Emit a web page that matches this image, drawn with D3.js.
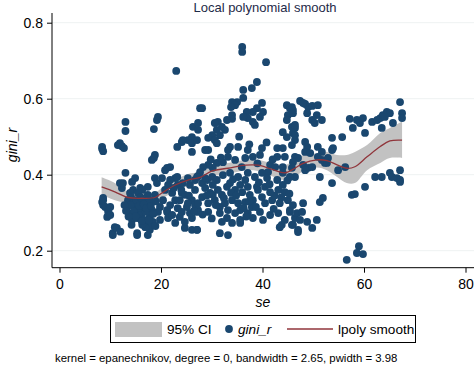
<!DOCTYPE html>
<html>
<head>
<meta charset="utf-8">
<script src="https://cdn.jsdelivr.net/npm/d3@7"></script>
<style>
  body { margin: 0; background: #fff; }
  text { font-family: "Liberation Sans", Arial, sans-serif; }
</style>
</head>
<body>
<div id="chart"></div>
<script>
// scatter: [se, gini_r]
var obs = [
  [8.4,0.468],[8.6,0.462],[8.4,0.473],[8.6,0.339],[8.4,0.328],[8.6,0.320],[9.0,0.315],[9.6,0.307],
  [9.4,0.289],[9.6,0.302],[10.0,0.294],[10.0,0.315],[8.6,0.333],[10.5,0.246],[10.9,0.262],[11.3,0.260],
  [10.5,0.241],[11.9,0.483],[11.5,0.478],[12.3,0.475],[12.7,0.470],[11.9,0.378],[12.3,0.365],[12.5,0.378],
  [13.0,0.405],[13.0,0.539],[13.0,0.515],[12.0,0.250],
  [13.3,0.315],[13.9,0.299],[14.3,0.281],[14.9,0.315],[15.9,0.325],[16.5,0.307],[17.4,0.320],[17.8,0.289],
  [17.2,0.273],[17.8,0.255],[17.4,0.241],[15.3,0.246],[15.3,0.241],[14.3,0.381],[14.9,0.391],[15.9,0.365],
  [17.4,0.368],[18.8,0.391],[14.5,0.360],[16.3,0.360],[15.5,0.352],[13.9,0.352],[13.5,0.333],[14.1,0.341],
  [14.5,0.325],[15.1,0.333],[15.5,0.307],[16.1,0.294],[16.9,0.333],[17.0,0.302],[16.7,0.281],[18.2,0.307],
  [17.8,0.333],[18.4,0.276],[17.8,0.262],[18.8,0.347],[16.9,0.262],[16.3,0.268],[17.4,0.347],[15.3,0.286],
  [18.8,0.452],[18.2,0.439],[18.6,0.444],[19.2,0.544],[19.4,0.552],[18.6,0.520],[19.2,0.378],[19.8,0.315],
  [19.8,0.281],[19.4,0.302],
  [14.0,0.320],[14.7,0.305],[15.7,0.318],[16.0,0.340],[16.6,0.322],[17.1,0.312],[18.0,0.318],[18.5,0.297],
  [15.0,0.290],[16.2,0.278],[17.6,0.280],[18.9,0.265],[14.2,0.268],[13.6,0.290],[19.0,0.330],[12.8,0.320],
  [13.1,0.305],
  [20.8,0.412],[21.8,0.420],[21.2,0.418],[22.8,0.391],[23.2,0.394],[21.2,0.302],[21.8,0.320],[21.4,0.286],
  [21.2,0.307],[22.8,0.273],[23.7,0.289],[24.7,0.260],[26.1,0.286],[26.1,0.255],[25.1,0.315],[24.7,0.276],
  [27.1,0.255],[22.8,0.333],[22.2,0.352],[24.1,0.352],[26.1,0.333],[26.7,0.360],[23.0,0.673],[27.7,0.575],
  [26.3,0.526],[26.1,0.499],[25.3,0.491],[24.1,0.486],[23.2,0.473],[24.3,0.491],[26.1,0.483],[26.1,0.460],
  [23.3,0.373],[24.3,0.378],[25.3,0.391],[25.7,0.373],[26.7,0.386],[27.3,0.397],[24.7,0.347],[23.7,0.333],
  [25.3,0.325],[26.7,0.320],[27.3,0.307],[23.3,0.312],[24.1,0.302],[22.2,0.294],[25.7,0.299],[20.4,0.333],
  [20.8,0.360],[21.4,0.373],[20.2,0.391],[21.8,0.386],
  [36.0,0.736],[36.0,0.723],[40.7,0.696],[38.9,0.644],[37.9,0.628],[36.2,0.623],[36.2,0.602],[35.0,0.591],
  [34.0,0.591],[34.6,0.583],[33.8,0.578],[28.1,0.575],[39.9,0.589],[40.1,0.565],[38.9,0.575],[38.1,0.565],
  [36.9,0.565],[37.1,0.549],[36.2,0.552],[38.1,0.539],[38.5,0.531],[39.5,0.552],[34.0,0.557],[34.0,0.547],
  [33.0,0.544],[31.2,0.539],[30.6,0.536],[32.0,0.526],[32.6,0.518],[31.0,0.518],[31.6,0.504],[30.1,0.504],
  [29.3,0.497],[30.6,0.491],[31.0,0.483],[27.3,0.536],[27.3,0.518],[29.3,0.465],[28.7,0.465],[27.1,0.491],
  [44.8,0.583],[45.4,0.575],[46.0,0.570],[45.0,0.557],[44.8,0.544],[45.8,0.526],[46.4,0.523],[46.0,0.510],
  [44.0,0.512],[44.8,0.499],[46.4,0.491],[45.8,0.478],[42.9,0.470],[44.0,0.470],[42.9,0.447],[44.4,0.447],
  [33.6,0.473],[33.2,0.465],[35.2,0.473],[37.1,0.465],[39.9,0.470],[39.5,0.452],[38.1,0.447],[36.6,0.444],
  [34.6,0.439],[33.2,0.447],[32.2,0.433],[31.0,0.431],[30.2,0.418],[29.3,0.426],[28.3,0.420],[27.7,0.407],
  [27.1,0.394],[41.5,0.426],[41.1,0.407],[42.5,0.420],[44.0,0.420],[44.0,0.405],[45.8,0.418],[46.4,0.394],
  [28.1,0.378],[29.1,0.386],[30.1,0.394],[31.0,0.386],[32.2,0.399],[33.6,0.405],[35.2,0.394],[37.1,0.405],
  [38.5,0.394],[39.9,0.405],[40.9,0.391],[42.9,0.386],[44.0,0.373],[44.4,0.354],[43.1,0.360],[41.5,0.354],
  [40.5,0.368],[38.9,0.368],[37.1,0.368],[36.0,0.354],[34.6,0.360],[33.0,0.368],[31.2,0.360],[29.7,0.352],
  [28.1,0.341],[27.3,0.325],[29.3,0.325],[30.6,0.333],[32.6,0.325],[34.0,0.333],[35.2,0.325],[36.6,0.328],
  [38.1,0.333],[39.9,0.341],[41.9,0.333],[43.4,0.325],[45.0,0.333],[46.0,0.320],[27.1,0.302],[29.3,0.302],
  [31.6,0.299],[33.2,0.307],[33.0,0.286],[34.6,0.299],[35.6,0.281],[37.1,0.299],[38.1,0.286],[39.5,0.302],
  [40.1,0.281],[41.5,0.294],[43.1,0.299],[44.4,0.281],[45.4,0.302],[46.4,0.286],[43.8,0.268],[45.8,0.268],
  [34.0,0.273],[35.6,0.273],[32.0,0.276],[31.6,0.246],[33.2,0.241],[27.1,0.255],[43.4,0.262],[47.0,0.255],
  [28.7,0.365],[30.2,0.373],[32.0,0.347],[33.6,0.378],[35.6,0.373],[37.5,0.347],[39.1,0.360],[36.6,0.386],
  [31.6,0.315],[35.6,0.307],[30.2,0.347],[28.7,0.391],[37.9,0.315],
  [29.0,0.345],[30.8,0.320],[32.4,0.338],[33.8,0.352],[34.8,0.345],[36.3,0.312],[37.4,0.330],[38.7,0.315],
  [40.5,0.325],[42.4,0.345],[43.7,0.340],[42.2,0.310],[39.3,0.380],[41.4,0.375],[34.2,0.388],[36.8,0.290],
  [30.0,0.285],[28.2,0.295],[26.5,0.305],[25.5,0.345],[24.0,0.360],[22.5,0.365],[45.3,0.350],[44.9,0.385],
  [29.8,0.440],[31.8,0.445],[35.9,0.420],[39.0,0.430],[42.0,0.440],[37.4,0.480],[35.4,0.500],[40.8,0.485],
  [47.4,0.594],[48.4,0.586],[49.0,0.578],[49.8,0.581],[50.9,0.583],[48.8,0.562],[50.7,0.557],[49.8,0.544],
  [50.3,0.536],[51.7,0.544],[45.8,0.578],[46.0,0.562],[48.0,0.589],[46.4,0.531],[46.4,0.504],[48.4,0.486],
  [48.8,0.473],[48.4,0.460],[50.9,0.473],[51.7,0.460],[49.4,0.457],[46.4,0.447],[47.0,0.444],[46.0,0.433],
  [53.7,0.497],[55.7,0.499],[53.7,0.465],[53.9,0.470],[51.7,0.439],[52.3,0.431],[50.9,0.447],[52.9,0.444],
  [48.0,0.426],[49.0,0.418],[49.8,0.420],[48.4,0.412],[52.7,0.431],[54.9,0.412],[56.3,0.420],[53.7,0.378],
  [51.3,0.394],[45.4,0.394],[57.6,0.347],[58.2,0.349],[51.9,0.339],[51.3,0.328],[48.0,0.325],[45.4,0.307],
  [46.8,0.299],[47.8,0.302],[47.4,0.281],[48.8,0.276],[50.7,0.281],[46.0,0.268],[47.0,0.249],[49.8,0.260],
  [56.6,0.176],[58.6,0.194],[59.8,0.191],[59.0,0.212],
  [57.2,0.547],[57.8,0.523],[58.6,0.544],[59.2,0.536],[59.8,0.549],[60.2,0.510],[61.6,0.539],[62.6,0.544],
  [63.2,0.549],[63.7,0.557],[64.5,0.565],[65.1,0.562],[63.5,0.523],[67.1,0.591],[67.5,0.562],[65.7,0.536],
  [67.5,0.549],[64.1,0.552],[60.2,0.368],[62.2,0.394],[63.5,0.394],[65.1,0.405],[65.5,0.394],[66.5,0.391],
  [67.1,0.412],[67.1,0.386],[67.1,0.381]
];

// lpoly smooth and its 95% CI
var gridSe = [8.3, 10.9, 13.5, 16.2, 18.8, 20.1, 22.8, 25.3, 27.7, 30.1, 33.2, 36.6, 39.1,
              41.9, 44.4, 46.4, 48.0, 50.7, 52.7, 54.7, 56.6, 58.2, 60.6, 63.2, 65.1, 67.5];
var smoothFit = [0.368, 0.355, 0.340, 0.338, 0.340, 0.351, 0.373, 0.386, 0.393, 0.410, 0.417, 0.425, 0.425,
                 0.414, 0.405, 0.417, 0.430, 0.439, 0.437, 0.426, 0.417, 0.421, 0.447, 0.474, 0.489, 0.491];
var ciHigh = [0.393, 0.378, 0.355, 0.352, 0.352, 0.365, 0.386, 0.402, 0.407, 0.421, 0.431, 0.439, 0.439,
              0.431, 0.426, 0.439, 0.452, 0.456, 0.460, 0.452, 0.452, 0.460, 0.478, 0.510, 0.523, 0.540];
var ciLow = [0.347, 0.333, 0.325, 0.323, 0.326, 0.336, 0.357, 0.370, 0.378, 0.396, 0.402, 0.412, 0.410,
             0.396, 0.386, 0.394, 0.410, 0.419, 0.412, 0.394, 0.378, 0.378, 0.412, 0.431, 0.444, 0.444];

var xTicks = [0, 20, 40, 60, 80];
var yTicks = [0.2, 0.4, 0.6, 0.8];

var width = 474,
    height = 366;

var plotLeft = 52,
    plotBottom = 267.7,
    plotTop = 13,
    plotRight = 480;

var navy = '#1a476f',
    maroon = '#90353b',
    ciGray = '#c2c2c2';

var x = d3.scaleLinear().domain([0, 80]).range([59.5, 465.5]);
var y = d3.scaleLinear().domain([0.2, 0.8]).range([250.7, 22.7]);

var svg = d3.select('#chart').append('svg')
    .attr('width', width)
    .attr('height', height);

svg.append('text')
    .attr('x', 265)
    .attr('y', 12)
    .attr('text-anchor', 'middle')
    .style('font-size', '13px')
    .style('fill', '#1e2a48')
    .text('Local polynomial smooth');

// grid
svg.append('g').selectAll('line')
    .data(yTicks)
    .enter().append('line')
    .attr('x1', plotLeft)
    .attr('x2', plotRight)
    .attr('y1', function(d) { return y(d); })
    .attr('y2', function(d) { return y(d); })
    .style('stroke', '#eef2f2')
    .style('stroke-width', 1);

var rows = gridSe.map(function(s, i) {
    return { se: s, fit: smoothFit[i], lo: ciLow[i], hi: ciHigh[i] };
});

svg.append('path')
    .datum(rows)
    .attr('d', d3.area()
        .curve(d3.curveCatmullRom)
        .x(function(d) { return x(d.se); })
        .y0(function(d) { return y(d.lo); })
        .y1(function(d) { return y(d.hi); }))
    .style('fill', ciGray)
    .style('stroke', 'none');

svg.append('g').selectAll('circle')
    .data(obs)
    .enter().append('circle')
    .attr('cx', function(d) { return x(d[0]); })
    .attr('cy', function(d) { return y(d[1]); })
    .attr('r', 3.9)
    .style('fill', navy);

svg.append('path')
    .datum(rows)
    .attr('d', d3.line()
        .curve(d3.curveCatmullRom)
        .x(function(d) { return x(d.se); })
        .y(function(d) { return y(d.fit); }))
    .style('fill', 'none')
    .style('stroke', maroon)
    .style('stroke-width', 1.3);

// axes
var yAxis = svg.append('g')
    .attr('transform', 'translate(' + plotLeft + ',0)')
    .call(d3.axisLeft(y).tickValues(yTicks).tickSize(5).tickPadding(4)
        .tickFormat(d3.format('.1f')));
yAxis.select('.domain').remove();
yAxis.append('line')
    .attr('x1', 0).attr('x2', 0)
    .attr('y1', plotTop).attr('y2', plotBottom)
    .style('stroke', '#000');

var xAxis = svg.append('g')
    .attr('transform', 'translate(0,' + plotBottom + ')')
    .call(d3.axisBottom(x).tickValues(xTicks).tickSize(5).tickPadding(6)
        .tickFormat(d3.format('d')));
xAxis.select('.domain').remove();
xAxis.append('line')
    .attr('x1', plotLeft).attr('x2', plotRight)
    .attr('y1', 0).attr('y2', 0)
    .style('stroke', '#000');

svg.selectAll('.tick text')
    .style('font-size', '14px')
    .style('font-family', '"Liberation Sans", Arial, sans-serif')
    .style('fill', '#000');
svg.selectAll('.tick line').style('stroke', '#000');

svg.append('text')
    .attr('x', 263)
    .attr('y', 307)
    .attr('text-anchor', 'middle')
    .style('font-size', '14px')
    .style('font-style', 'italic')
    .text('se');

svg.append('text')
    .attr('transform', 'translate(17,145) rotate(-90)')
    .attr('text-anchor', 'middle')
    .style('font-size', '14px')
    .style('font-style', 'italic')
    .text('gini_r');

// legend
var legend = svg.append('g');
legend.append('rect')
    .attr('x', 110.5).attr('y', 315.5)
    .attr('width', 305).attr('height', 27)
    .style('fill', '#fff')
    .style('stroke', '#000')
    .style('stroke-width', 1);
legend.append('rect')
    .attr('x', 115).attr('y', 322)
    .attr('width', 47).attr('height', 15)
    .style('fill', ciGray);
legend.append('text')
    .attr('x', 167).attr('y', 334)
    .style('font-size', '13.6px')
    .text('95% CI');
legend.append('circle')
    .attr('cx', 229).attr('cy', 329)
    .attr('r', 3.9)
    .style('fill', navy);
legend.append('text')
    .attr('x', 238).attr('y', 334)
    .style('font-size', '13.6px')
    .style('font-style', 'italic')
    .text('gini_r');
legend.append('line')
    .attr('x1', 287).attr('x2', 333)
    .attr('y1', 329).attr('y2', 329)
    .style('stroke', maroon)
    .style('stroke-width', 1.3);
legend.append('text')
    .attr('x', 338).attr('y', 334)
    .style('font-size', '13.6px')
    .text('lpoly smooth');

svg.append('text')
    .attr('x', 55)
    .attr('y', 362)
    .style('font-size', '11.4px')
    .text('kernel = epanechnikov, degree = 0, bandwidth = 2.65, pwidth = 3.98');
</script>
</body>
</html>
